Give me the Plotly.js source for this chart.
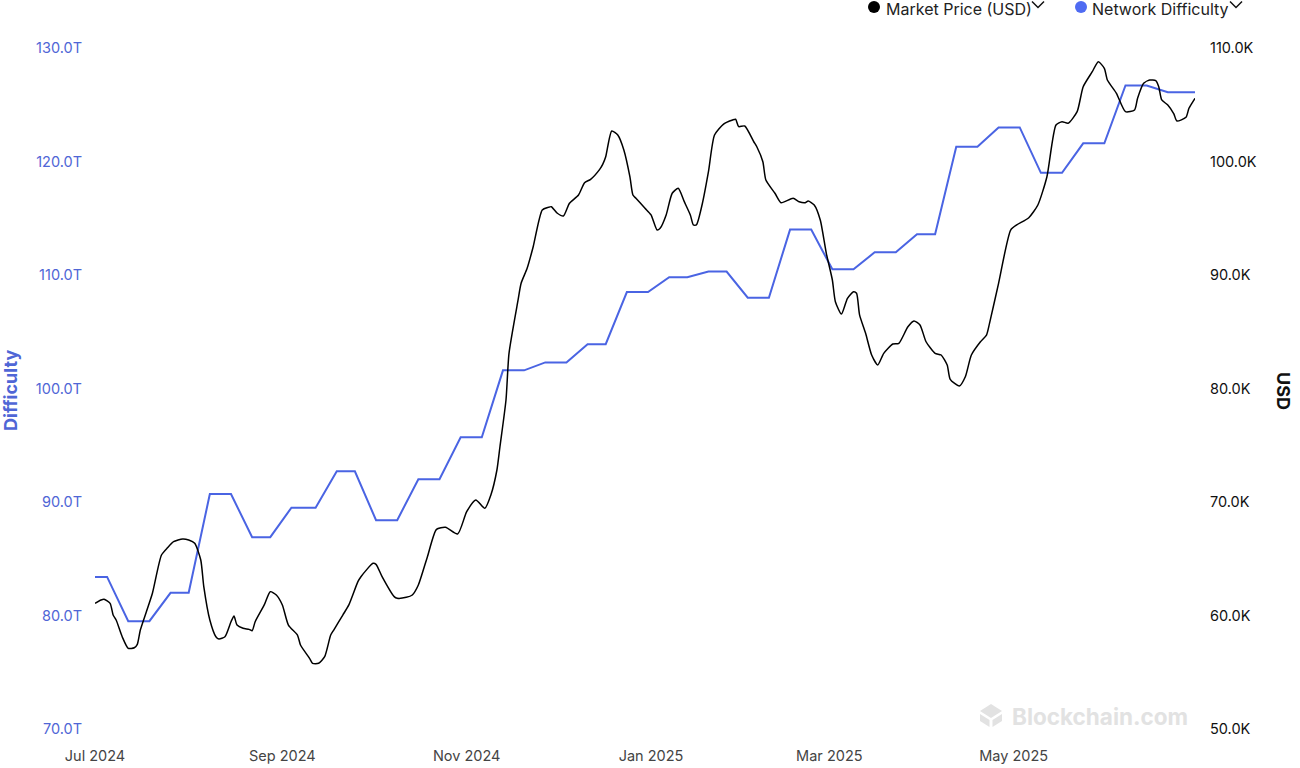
<!DOCTYPE html>
<html>
<head>
<meta charset="utf-8">
<script src="https://cdn.plot.ly/plotly-3.0.1.min.js"></script>
<style>
html,body{margin:0;padding:0;background:#fff;}
#chart{width:1300px;height:768px;}
</style>
</head>
<body>
<div id="chart"></div>
<script>
// Network difficulty (T), vertices of the 7-day averaged step series
const diffDates = [
  '2024-07-01','2024-07-05','2024-07-12','2024-07-19','2024-07-26','2024-08-01','2024-08-08',
  '2024-08-15','2024-08-22','2024-08-28','2024-09-04','2024-09-12','2024-09-19','2024-09-25',
  '2024-10-02','2024-10-09','2024-10-16','2024-10-23','2024-10-30','2024-11-06','2024-11-13',
  '2024-11-20','2024-11-27','2024-12-04','2024-12-11','2024-12-17','2024-12-24','2024-12-31',
  '2025-01-07','2025-01-13','2025-01-20','2025-01-26','2025-02-02','2025-02-09','2025-02-16',
  '2025-02-23','2025-03-02','2025-03-09','2025-03-16','2025-03-23','2025-03-30','2025-04-05',
  '2025-04-12','2025-04-19','2025-04-26','2025-05-03','2025-05-10','2025-05-17','2025-05-24',
  '2025-05-31','2025-06-07','2025-06-14','2025-06-21','2025-06-30'
];
const diffT = [
  83.4,83.4,79.5,79.5,82.0,82.0,90.7,
  90.7,86.9,86.9,89.5,89.5,92.7,92.7,
  88.4,88.4,92.0,92.0,95.7,95.7,101.6,
  101.6,102.3,102.3,103.9,103.9,108.5,108.5,
  109.8,109.8,110.3,110.3,108.0,108.0,114.0,
  114.0,110.5,110.5,112.0,112.0,113.6,113.6,
  121.3,121.3,123.0,123.0,119.0,119.0,121.6,
  121.6,126.7,126.7,126.1,126.1
];

// Market price (thousand USD)
const priceDates = [
  '2024-07-01','2024-07-03','2024-07-04','2024-07-06','2024-07-07','2024-07-08','2024-07-10','2024-07-12',
  '2024-07-14','2024-07-15','2024-07-16','2024-07-18','2024-07-20','2024-07-23','2024-07-25','2024-07-27',
  '2024-07-30','2024-08-01','2024-08-03','2024-08-05','2024-08-06','2024-08-08','2024-08-10','2024-08-11',
  '2024-08-13','2024-08-15','2024-08-16','2024-08-17','2024-08-19','2024-08-21','2024-08-22','2024-08-23',
  '2024-08-26','2024-08-28','2024-08-30','2024-09-01','2024-09-03','2024-09-06','2024-09-07','2024-09-10',
  '2024-09-11','2024-09-13','2024-09-15','2024-09-17','2024-09-18','2024-09-21','2024-09-23','2024-09-26',
  '2024-09-27','2024-10-01','2024-10-02','2024-10-04','2024-10-08','2024-10-09','2024-10-12','2024-10-14',
  '2024-10-16','2024-10-19','2024-10-22','2024-10-25','2024-10-29','2024-11-01','2024-11-04','2024-11-07',
  '2024-11-09','2024-11-11','2024-11-12','2024-11-14','2024-11-15','2024-11-18','2024-11-19','2024-11-21',
  '2024-11-23','2024-11-26','2024-11-28','2024-11-29','2024-12-01','2024-12-03','2024-12-05','2024-12-08',
  '2024-12-10','2024-12-12','2024-12-15','2024-12-16','2024-12-17','2024-12-19','2024-12-21','2024-12-23',
  '2024-12-25','2024-12-26','2024-12-27','2024-12-30','2025-01-01','2025-01-03','2025-01-04','2025-01-06',
  '2025-01-08','2025-01-10','2025-01-12','2025-01-14','2025-01-15','2025-01-16','2025-01-18','2025-01-20',
  '2025-01-22','2025-01-25','2025-01-28','2025-01-29','2025-01-30','2025-02-01','2025-02-04','2025-02-05',
  '2025-02-07','2025-02-08','2025-02-11','2025-02-13','2025-02-17','2025-02-19','2025-02-21','2025-02-22',
  '2025-02-24','2025-02-26','2025-02-28','2025-03-02','2025-03-03','2025-03-05','2025-03-07','2025-03-09',
  '2025-03-10','2025-03-11','2025-03-13','2025-03-15','2025-03-17','2025-03-19','2025-03-22','2025-03-24',
  '2025-03-27','2025-03-29','2025-03-31','2025-04-02','2025-04-05','2025-04-07','2025-04-09','2025-04-10',
  '2025-04-13','2025-04-15','2025-04-17','2025-04-20','2025-04-22','2025-04-23','2025-04-26','2025-04-30',
  '2025-05-02','2025-05-06','2025-05-09','2025-05-12','2025-05-15','2025-05-17','2025-05-19','2025-05-22',
  '2025-05-24','2025-05-27','2025-05-29','2025-05-31','2025-06-01','2025-06-04','2025-06-07','2025-06-10',
  '2025-06-11','2025-06-13','2025-06-15','2025-06-17','2025-06-18','2025-06-19','2025-06-21','2025-06-23',
  '2025-06-24','2025-06-27','2025-06-28','2025-06-30'
];
const priceK = [
  61.07,61.37,61.43,61.07,60.04,59.60,58.13,57.11,
  57.16,57.46,58.72,60.33,61.96,65.33,65.97,66.50,
  66.74,66.65,66.36,64.89,62.54,59.60,58.13,57.93,
  58.13,59.45,59.96,59.16,58.87,58.78,58.66,59.45,
  60.93,62.10,61.81,60.93,59.16,58.28,57.40,56.23,
  55.79,55.79,56.37,58.28,58.72,60.04,60.93,62.98,
  63.42,64.60,64.51,63.42,61.66,61.52,61.60,61.81,
  62.69,65.18,67.59,67.77,67.18,69.15,70.18,69.44,
  70.62,72.82,74.87,78.99,83.10,87.80,89.27,90.59,
  92.49,95.73,95.96,96.02,95.44,95.20,96.32,97.05,
  98.13,98.43,99.31,99.75,100.42,102.69,102.33,101.01,
  98.66,97.05,96.76,95.88,95.29,93.96,94.11,95.29,
  97.20,97.64,96.46,95.29,94.41,94.41,96.32,99.10,
  102.33,103.30,103.66,103.72,103.07,103.13,101.74,101.30,
  99.98,98.37,97.20,96.37,96.76,96.46,96.37,96.52,
  96.17,94.85,91.91,89.56,87.65,86.56,87.95,88.53,
  88.39,86.48,84.86,82.95,82.07,83.10,83.92,83.98,
  85.44,85.95,85.60,84.12,83.10,82.95,82.07,80.81,
  80.22,81.04,82.95,84.12,84.71,85.74,89.27,93.96,
  94.41,95.05,96.17,98.66,103.22,103.51,103.37,104.39,
  106.59,107.91,108.79,108.21,107.18,106.01,104.39,104.54,
  105.57,106.89,107.18,107.12,106.59,105.42,104.98,104.19,
  103.57,103.89,104.69,105.57
];

const leftTicks = [70,80,90,100,110,120,130];
const leftTickText = ['70.0T','80.0T','90.0T','100.0T','110.0T','120.0T','130.0T'];
const rightTicks = [50,60,70,80,90,100,110];
const rightTickText = ['50.0K','60.0K','70.0K','80.0K','90.0K','100.0K','110.0K'];

const BLUE = '#4A64E3';
const BLUE_TXT = '#4F66D6';
const FONT = 'Inter, "Noto Sans", sans-serif';

const traces = [
  {x: diffDates, y: diffT, type:'scatter', mode:'lines', name:'Network Difficulty',
   line:{color:BLUE, width:2}, yaxis:'y', hoverinfo:'skip'},
  {x: priceDates, y: priceK, type:'scatter', mode:'lines', name:'Market Price (USD)',
   line:{color:'#000', width:1.5, shape:'spline', smoothing:0.6}, yaxis:'y2', hoverinfo:'skip'}
];

// helpers: pixel -> paper
const L=95, R=1195, T=48, B=729;
const px = v => (v-L)/(R-L);
const py = v => (B-v)/(B-T);

const shapes = [
  {type:'circle', xref:'paper', yref:'paper', x0:px(868), x1:px(880), y0:py(13), y1:py(1), fillcolor:'#000', line:{width:0}},
  {type:'circle', xref:'paper', yref:'paper', x0:px(1075), x1:px(1087), y0:py(13), y1:py(1), fillcolor:'#4F6BF2', line:{width:0}},
  {type:'path', xref:'paper', yref:'paper', path:`M ${px(1032)} ${py(1.5)} L ${px(1038)} ${py(7.5)} L ${px(1044)} ${py(1.5)}`, line:{color:'#111', width:1.5}},
  {type:'path', xref:'paper', yref:'paper', path:`M ${px(1230)} ${py(1.5)} L ${px(1236)} ${py(7.5)} L ${px(1242)} ${py(1.5)}`, line:{color:'#111', width:1.5}},
  // watermark logo (cube)
  {type:'path', xref:'paper', yref:'paper', path:`M ${px(991)} ${py(704)} L ${px(1002)} ${py(711)} L ${px(991)} ${py(718)} L ${px(980)} ${py(711)} Z`, fillcolor:'#E2E2E2', line:{width:0}},
  {type:'path', xref:'paper', yref:'paper', path:`M ${px(980)} ${py(714)} L ${px(989.5)} ${py(720)} L ${px(989.5)} ${py(727)} L ${px(980)} ${py(721)} Z`, fillcolor:'#E2E2E2', line:{width:0}},
  {type:'path', xref:'paper', yref:'paper', path:`M ${px(1002)} ${py(714)} L ${px(992.5)} ${py(720)} L ${px(992.5)} ${py(727)} L ${px(1002)} ${py(721)} Z`, fillcolor:'#E2E2E2', line:{width:0}}
];

const annotations = [
  {text:'Market Price (USD)', xref:'paper', yref:'paper', x:px(885), y:py(9), xanchor:'left', yanchor:'middle', showarrow:false, borderpad:0, font:{family:FONT, size:16, color:'#222'}},
  {text:'Network Difficulty', xref:'paper', yref:'paper', x:px(1091), y:py(9), xanchor:'left', yanchor:'middle', showarrow:false, borderpad:0, font:{family:FONT, size:16, color:'#222'}},
  {text:'<b>Difficulty</b>', xref:'paper', yref:'paper', x:px(11), y:py(391), xanchor:'center', yanchor:'middle', textangle:-90, showarrow:false, font:{family:FONT, size:18, color:BLUE_TXT}},
  {text:'<b>USD</b>', xref:'paper', yref:'paper', x:px(1283), y:py(391), xanchor:'center', yanchor:'middle', textangle:90, showarrow:false, font:{family:FONT, size:18, color:'#111'}},
  {text:'<b>Blockchain.com</b>', xref:'paper', yref:'paper', x:px(1010), y:py(716), xanchor:'left', yanchor:'middle', showarrow:false, font:{family:FONT, size:22.5, color:'#E2E2E2'}}
];

const layout = {
  width:1300, height:768,
  margin:{l:L, r:1300-R, t:T, b:768-B, pad:0},
  paper_bgcolor:'#fff', plot_bgcolor:'#fff',
  showlegend:false,
  font:{family:FONT},
  xaxis:{type:'date', range:['2024-07-01','2025-06-30'], showgrid:false, zeroline:false, showline:false,
    ticks:'', tick0:'2024-07-01', dtick:'M2', tickformat:'%b %Y', ticklabelstandoff:16,
    tickfont:{family:FONT, size:14.5, color:'#444'}},
  yaxis:{range:[70,130], tickmode:'array', tickvals:leftTicks, ticktext:leftTickText, showgrid:false, zeroline:false,
    showline:false, ticks:'', ticklabelstandoff:12, tickfont:{family:FONT, size:14.5, color:BLUE_TXT}},
  yaxis2:{range:[50,110], tickmode:'array', tickvals:rightTicks, ticktext:rightTickText, overlaying:'y', side:'right',
    showgrid:false, zeroline:false, showline:false, ticks:'', ticklabelstandoff:14, tickfont:{family:FONT, size:14.5, color:'#111'}},
  shapes:shapes,
  annotations:annotations
};

Plotly.newPlot('chart', traces, layout, {staticPlot:true, displayModeBar:false});
</script>
</body>
</html>
